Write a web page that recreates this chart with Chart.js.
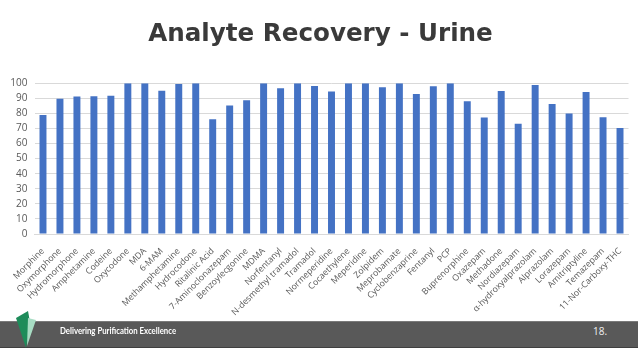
<!DOCTYPE html>
<html>
<head>
<meta charset="utf-8">
<script src="https://cdn.jsdelivr.net/npm/chart.js@4"></script>
<style>
  html, body { margin: 0; padding: 0; background: #ffffff; }
  body { width: 638px; height: 359px; position: relative; overflow: hidden; }
  #wrap { position: absolute; left: 0; top: 0; width: 638px; height: 320px; }
  #title { position: absolute; left: 0; top: 18px; width: 641px; text-align: center; font-family: "DejaVu Sans", sans-serif;
           font-weight: bold; font-size: 24.6px; line-height: 30px; color: #3a3a3a; white-space: nowrap; }
  #footer { position: absolute; left: 0; top: 321px; width: 638px; height: 27px; background: #595959;
            border-top: 1px solid #7a7a7a; border-bottom: 1px solid #3f3f3f; box-sizing: border-box; }
  #ftext { position: absolute; left: 60px; top: 325px; font-family: "Lato", sans-serif; font-weight: bold;
           font-size: 9.5px; color: #ffffff; transform-origin: left center; transform: scaleX(0.82); white-space: nowrap; line-height: 12px; }
  #page { position: absolute; left: 593px; top: 325px; font-family: "Open Sans", sans-serif; font-size: 10px;
          color: #f0f0f0; line-height: 12px; }
  #logo { position: absolute; left: 10px; top: 308px; }
</style>
</head>
<body>
<div id="wrap"><canvas id="c"></canvas></div>
<div id="title"></div>
<div id="footer"></div>
<svg id="logo" width="32" height="42" viewBox="0 0 32 42">
  <polygon points="6,10 18,3 20,14 16,40" fill="#1e8c5a"/>
  <polygon points="18,10 26,12 17,38" fill="#a7dcc3"/>
</svg>
<div id="ftext">Delivering Purification Excellence</div>
<div id="page">18.</div>
<script>
const categories = ["Morphine","Oxymorphone","Hydromorphone","Amphetamine","Codeine","Oxycodone","MDA","6-MAM",
  "Methamphetamine","Hydrocodone","Ritalinic Acid","7-Aminoclonazepam","Benzoylecgonine","MDMA","Norfentanyl",
  "N-desmethyl tramadol","Tramadol","Normeperidine","Cocaethylene","Meperidine","Zolpidem","Meprobamate",
  "Cyclobenzaprine","Fentanyl","PCP","Buprenorphine","Oxazepam","Methadone","Nordiazepam","α-hydroxyalprazolam",
  "Alprazolam","Lorazepam","Amitriptyline","Temazepam","11-Nor-Carboxy-THC"];
const recovery = [79.0,89.8,91.2,91.4,91.8,100,100,95.1,99.6,100,76.2,85.2,88.7,100,96.7,100,98.2,94.5,100,100,
  97.4,100,92.9,98.0,100,88.1,77.3,94.9,73.1,98.9,86.3,79.9,94.3,77.5,70.4];
const yTicksMin = 0, yTicksMax = 100, yTickStep = 10;
const chartTitle = "Analyte Recovery - Urine";
document.getElementById('title').textContent = chartTitle;

new Chart(document.getElementById('c'), {
  type: 'bar',
  data: {
    labels: categories,
    datasets: [{ data: recovery, backgroundColor: '#4472C4', borderWidth: 0,
                 barPercentage: 0.41, categoryPercentage: 1.0 }]
  },
  options: {
    responsive: true, maintainAspectRatio: false, animation: false,
    layout: { padding: { left: 0, right: 9.5, top: 83.3, bottom: 0 } },
    plugins: { legend: { display: false }, tooltip: { enabled: false }, title: { display: false } },
    scales: {
      x: {
        grid: { display: false },
        border: { display: true, color: '#d9d9d9' },
        ticks: { autoSkip: false, minRotation: 45, maxRotation: 45, color: '#595959', padding: 4,
                 font: { family: 'Open Sans', size: 8.7 } },
        afterFit: (s) => { s.height = 86; }
      },
      y: {
        min: yTicksMin, max: yTicksMax,
        grid: { color: '#d9d9d9', drawTicks: false },
        border: { display: false },
        ticks: { stepSize: yTickStep, color: '#595959', padding: 7,
                 font: { family: 'Open Sans', size: 10 } },
        afterFit: (s) => { s.width = 34.5; }
      }
    }
  }
});
</script>
</body>
</html>
